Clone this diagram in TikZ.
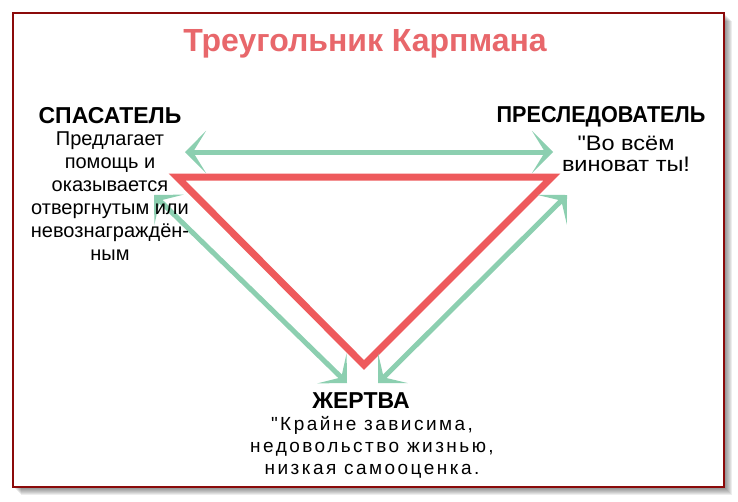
\documentclass[tikz,border=0pt]{standalone}
\usepackage{fontspec}
\setmainfont{Liberation Sans}[Ligatures=TeXOff]
\newfontfamily\rolebold{Liberation Sans Bold}[Ligatures=TeXOff]
\newfontfamily\rolenarrow{Liberation Sans Bold}[FakeStretch=0.94,Ligatures=TeXOff]
\newfontfamily\widefont{Liberation Sans}[FakeStretch=1.12,Ligatures=TeXOff]
\newfontfamily\spaced{Liberation Sans}[LetterSpace=13,Ligatures=TeXOff]
\usetikzlibrary{arrows.meta}
\definecolor{tri}{HTML}{EE5A5C}
\definecolor{grn}{HTML}{8CCFB0}
\definecolor{ttl}{HTML}{E8676B}
\definecolor{frm}{HTML}{8B0A0A}
\tikzset{
  role/.style={font=\fontsize{23}{26}\selectfont, inner sep=0pt, anchor=base},
  desc/.style={font=\fontsize{20}{23}\selectfont, align=center, inner sep=0pt, anchor=north},
  garrow/.style={draw=grn, line width=5pt, {Stealth[length=21pt,width=42pt,inset=13pt]}-{Stealth[length=21pt,width=42pt,inset=13pt]}},
}
\begin{document}
\begin{tikzpicture}[x=1pt,y=-1pt]
\useasboundingbox (0,0) rectangle (738,501);
% shadow
\foreach \d in {1,...,8}{
  \fill[black, opacity=0.07] (13+\d,13+\d) rectangle (724+\d,487+\d);
}
\fill[white] (13,13) rectangle (724,487);
\draw[frm, line width=1.8pt] (13,13) rectangle (724,487);
% title
\node[font=\rolebold\fontsize{32}{35}\selectfont, text=ttl, anchor=base, inner sep=0pt] (title) at (365,51) {Треугольник Карпмана};
% triangle
\coordinate (A) at (177,177);
\coordinate (B) at (552,177);
\coordinate (C) at (364,365);
\draw[tri, line width=7pt, line join=miter] (A) -- (B) -- (C) -- cycle;
% green arrows
\coordinate (t1) at (185,152);
\coordinate (t2) at (553,152);
\draw[garrow] (t1) -- (t2);
\coordinate (l1) at (154,195);
\coordinate (l2) at (347,383);
\draw[garrow] (l1) -- (l2);
\coordinate (r1) at (567,195);
\coordinate (r2) at (378,383);
\draw[garrow] (r1) -- (r2);
% labels
\node[role, font=\rolebold\fontsize{23}{26}\selectfont] (sp) at (110,123) {СПАСАТЕЛЬ};
\node[desc] (spd) at (110,132) {Предлагает\\помощь и\\оказывается\\отвергнутым или\\невознаграждён-\\ным};
\node[role, font=\rolenarrow\fontsize{23}{26}\selectfont] (pr) at (601,122) {ПРЕСЛЕДОВАТЕЛЬ};
\node[desc, font=\widefont\fontsize{21}{21}\selectfont] (prd) at (626,136) {"Во всём\\виноват ты!};
\node[role, font=\rolebold\fontsize{23}{26}\selectfont] (zh) at (361,408) {ЖЕРТВА};
\node[font=\spaced\fontsize{19}{22}\selectfont, align=center, inner sep=0pt, anchor=north] (zhd) at (372,416) {"Крайне зависима,\\недовольство жизнью,\\низкая самооценка.};
\end{tikzpicture}
\end{document}
